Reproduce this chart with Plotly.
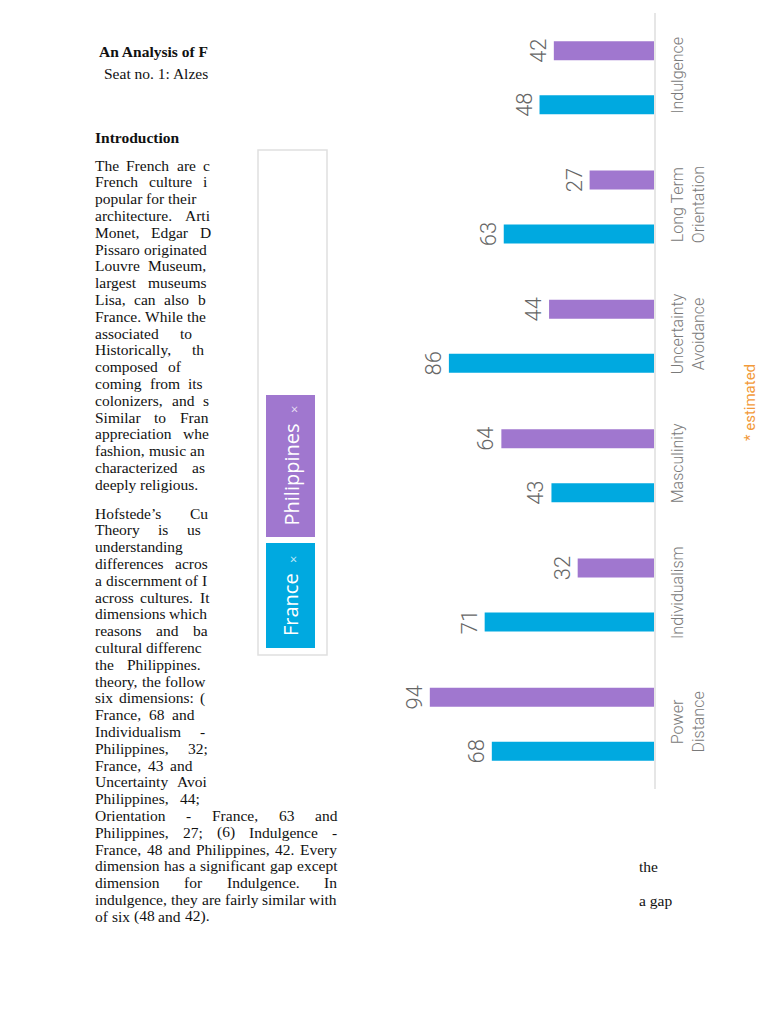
import plotly.graph_objects as go

W, H = 768, 1024

# ---------------- chart data ----------------
dimensions = ["Power<br>Distance", "Individualism", "Masculinity",
              "Uncertainty<br>Avoidance", "Long Term<br>Orientation", "Indulgence"]
france = [68, 71, 43, 86, 63, 48]
philippines = [94, 32, 64, 44, 27, 42]
countries = ["France", "Philippines"]
country_colors = ["#00a9e0", "#a077cf"]
note_text = "* estimated"

# ---------------- document text ----------------
title_lines = [("An Analysis of F", True, 97, 51), ("Seat no. 1: Alzes", False, 102, 73),
               ("Introduction", True, 93, 137)]
para1 = [
    ("The French are c", 200.7), ("French culture is", 201), ("popular for their", 158),
    ("architecture. Arti", 183), ("Monet, Edgar D", 198), ("Pissaro originated", 136),
    ("Louvre Museum,", 146), ("largest museums", 146), ("Lisa, can also b", 196),
    ("France. While the", 170), ("associated to", 178), ("Historically, th", 189.7),
    ("composed of", 166), ("coming from its", 186.3), ("colonizers, and s", 201),
    ("Similar to Fran", 178), ("appreciation whe", 181.3), ("fashion, music an", 188),
    ("characterized as", 189.7), ("deeply religious.", None),
]
para2 = [
    ("Hofstede\u2019s Cul", 188), ("Theory is us", 184.7), ("understanding", None),
    ("differences acros", 173), ("a discernment of I", 199.7), ("across cultures. It", 198),
    ("dimensions which", 161.3), ("reasons and ba", 191.3), ("cultural differenc", 128),
    ("the Philippines.", 124.7), ("theory, the follow", 158), ("six dimensions: (", 198),
    ("France, 68 and", 169.7), ("Individualism -", 198), ("Philippines, 32;", 186.3),
    ("France, 43 and", 168), ("Uncertainty Avoi", 174.7), ("Philippines, 44;", 178),
    ("Orientation - France, 63 and", "J"), ("Philippines, 27; (6) Indulgence -", "J"),
    ("France, 48 and Philippines, 42. Every", "J"), ("dimension has a significant gap except", "J"),
    ("dimension for Indulgence. In", "J"), ("indulgence, they are fairly similar with", "J"),
    ("of six (48 and 42).", None),
]
extra_words = [("the", 637, 866), ("a gap", 637, 900)]

FS = 15.5
LH = 16.8
LEFT, RIGHT, CLIP = 93.0, 335.0, 206.5
SERIF = "Liberation Serif, Times New Roman, serif"

TW = {' ': 250, ',': 250, '.': 250, ';': 278, ':': 278, '-': 333, '(': 333, ')': 333, '\u2019': 333,
      'A': 722, 'B': 667, 'C': 667, 'D': 722, 'E': 611, 'F': 556, 'G': 722, 'H': 722, 'I': 333,
      'J': 389, 'K': 722, 'L': 611, 'M': 889, 'N': 722, 'O': 722, 'P': 556, 'Q': 722, 'R': 667,
      'S': 556, 'T': 611, 'U': 722, 'V': 722, 'W': 944, 'X': 722, 'Y': 722, 'Z': 611,
      'a': 444, 'b': 500, 'c': 444, 'd': 500, 'e': 444, 'f': 333, 'g': 500, 'h': 500, 'i': 278,
      'j': 278, 'k': 500, 'l': 278, 'm': 778, 'n': 500, 'o': 500, 'p': 500, 'q': 500, 'r': 333,
      's': 389, 't': 278, 'u': 500, 'v': 500, 'w': 722, 'x': 500, 'y': 500, 'z': 444}
for d in "0123456789":
    TW[d] = 500


def tw(s, bold=False):
    return sum(TW.get(c, 500) for c in s) * FS / 1000.0 * (1.05 if bold else 1.0)


def px(x):
    return x / W


def py(y):
    return 1 - y / H


annotations = []


def add_word(word, x, y, bold=False):
    annotations.append(dict(
        text=("<b>%s</b>" % word) if bold else word, x=px(x), y=py(y), xref="paper", yref="paper",
        xanchor="left", yanchor="middle", showarrow=False,
        font=dict(family=SERIF, size=FS, color="#111111")))


def clip_text(w, x, clip, bold=False):
    vis = ""
    cx = x
    for c in w:
        cw = tw(c, bold)
        if cx + cw * 0.5 > clip:
            break
        vis += c
        cx += cw
    return vis


def layout_line(text, mode, y):
    words = text.split(" ")
    widths = [tw(w) for w in words]
    n = len(words)
    space = tw(" ")
    if mode is None or n == 1:
        gap = space
    elif mode == "J":
        gap = (RIGHT - LEFT - sum(widths)) / (n - 1)
    else:
        gap = max(space, (mode - LEFT - sum(widths[:-1])) / (n - 1))
    x = LEFT
    clip = CLIP if (mode != "J" and y < 800) else 1e9
    for w, wd in zip(words, widths):
        if x >= clip - 2:
            break
        vis = clip_text(w, x, clip)
        if vis:
            add_word(vis, x, y)
        x += wd + gap


for t, b, x, y in title_lines:
    vis = clip_text(t, x, CLIP, b)
    add_word(vis, x, y, bold=b)
for i, (t, m) in enumerate(para1):
    layout_line(t, m, 165 + i * LH)
for i, (t, m) in enumerate(para2):
    layout_line(t, m, 513 + i * LH)
for t, x, y in extra_words:
    add_word(t, x, y)

# ---------------- chart ----------------
fig = go.Figure()
series = [france, philippines]
for name, vals, col in zip(countries, series, country_colors):
    fig.add_trace(go.Bar(
        y=dimensions, x=vals, name=name, orientation="h", marker=dict(color=col, line=dict(width=0)),
        text=vals, textposition="outside", textangle=-90, constraintext="none", cliponaxis=False,
        textfont=dict(family="Roboto", size=22, color="#666666", weight=300), showlegend=False))

BASE = 654.0
SCALE = 2.385
X0 = 405.0
rng_max = (BASE - X0) / SCALE

shapes = []
# legend panel
shapes.append(dict(type="rect", xref="paper", yref="paper", x0=px(258), x1=px(327), y0=py(655), y1=py(150),
                   line=dict(color="#e0e0e0", width=1.5), fillcolor="white", layer="below"))
tag_spans = [(543, 648), (395, 537)]
for name, col, (ya, yb) in zip(countries, country_colors, tag_spans):
    shapes.append(dict(type="rect", xref="paper", yref="paper", x0=px(266), x1=px(315), y0=py(yb), y1=py(ya),
                       line=dict(width=0), fillcolor=col, layer="below"))
    annotations.append(dict(
        text=name + "  <span style='font-size:13px;color:rgba(255,255,255,0.75)'>\u00d7</span>",
        x=px(290.5), y=py((ya + yb) / 2), xref="paper", yref="paper", textangle=-90, showarrow=False,
        xanchor="center", yanchor="middle", font=dict(family="Open Sans", size=20, color="white")))

annotations.append(dict(text=note_text, x=px(750), y=py(403), xref="paper", yref="paper", textangle=-90,
                        showarrow=False, xanchor="center", yanchor="middle",
                        font=dict(family="Roboto", size=15, color="#f29a3a")))

fig.update_layout(
    width=W, height=H, margin=dict(l=0, r=0, t=0, b=0), paper_bgcolor="white", plot_bgcolor="white",
    barmode="group", bargap=0.165, bargroupgap=0.648,
    xaxis=dict(domain=[px(X0), px(BASE)], range=[rng_max, 0], visible=False, fixedrange=True),
    yaxis=dict(domain=[py(789), py(13)], range=[-0.5, 5.5], side="right", showline=True,
               linecolor="#e6e6e6", linewidth=1.5, showgrid=False, zeroline=False, ticks="",
               tickangle=-90, ticklabelstandoff=8, categoryorder="array", categoryarray=dimensions,
               tickfont=dict(family="Roboto", size=16, color="#7a7a7a", weight=300)),
    shapes=shapes, annotations=annotations,
)

fig.write_html("out.html")
